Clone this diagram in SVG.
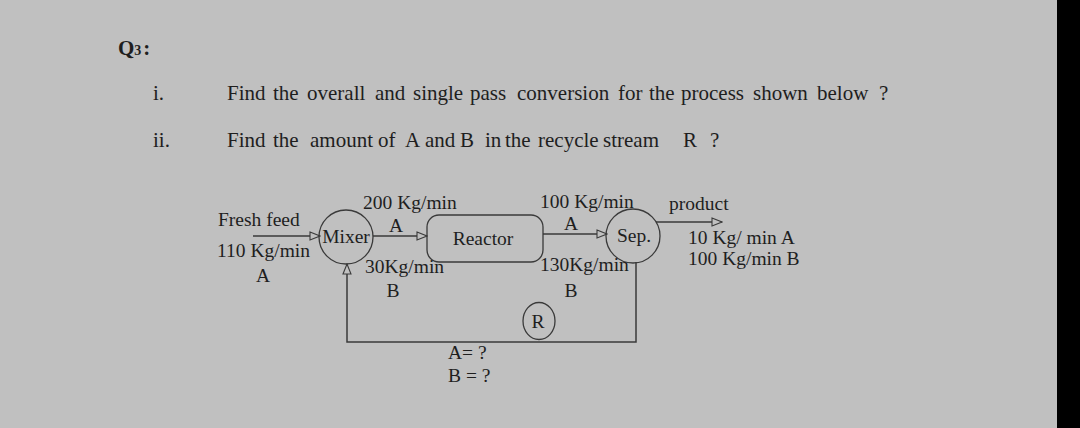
<svg xmlns="http://www.w3.org/2000/svg" width="1080" height="428" viewBox="0 0 1080 428">
<style>
text{font-family:"Liberation Serif","Times New Roman",serif;fill:#1e1e1e;font-size:19.5px}
.q{font-size:21px}
.c{text-anchor:middle}
.ln{stroke:#3a3a3a;stroke-width:1.5;fill:none}
.sh{stroke:#3a3a3a;stroke-width:1.3;fill:none}
</style>
<defs>
<marker id="ah" viewBox="0 0 12 10" refX="11" refY="5" markerWidth="12" markerHeight="10" markerUnits="userSpaceOnUse" orient="auto">
<path d="M1,1 L11,5 L1,9 Z" fill="#c0c0c0" stroke="#3a3a3a" stroke-width="1.1"/>
</marker>
</defs>
<rect width="1080" height="428" fill="#c0c0c0"/>
<rect x="1057" y="0" width="23" height="428" fill="#000"/>
<text x="118" y="55" style="font-weight:bold;font-size:21px">Q<tspan style="font-size:14px">3</tspan><tspan dx="2">:</tspan></text>
<text class="q" x="153" y="100">i.</text>
<text class="q" y="100"><tspan x="227">Find</tspan><tspan x="273">the</tspan><tspan x="307">overall</tspan><tspan x="375">and</tspan><tspan x="413">single</tspan><tspan x="470">pass</tspan><tspan x="517">conversion</tspan><tspan x="618">for</tspan><tspan x="649">the</tspan><tspan x="681">process</tspan><tspan x="753">shown</tspan><tspan x="817">below</tspan><tspan x="879">?</tspan></text>
<text class="q" x="153" y="147">ii.</text>
<text class="q" y="147"><tspan x="227">Find</tspan><tspan x="273">the</tspan><tspan x="310">amount</tspan><tspan x="378">of</tspan><tspan x="405">A</tspan><tspan x="425">and</tspan><tspan x="460">B</tspan><tspan x="485">in</tspan><tspan x="505">the</tspan><tspan x="538">recycle</tspan><tspan x="603">stream</tspan><tspan x="683">R</tspan><tspan x="710">?</tspan></text>
<g id="connectors">
<path class="ln" d="M253,236 H320" marker-end="url(#ah)"/>
<path class="ln" d="M373,236 H427" marker-end="url(#ah)"/>
<path class="ln" d="M543,234 H607" marker-end="url(#ah)"/>
<path class="ln" d="M656,222 H722" marker-end="url(#ah)"/>
<path class="ln" d="M636,262 V342 H347 V264" marker-end="url(#ah)"/>
</g>
<g id="mixer">
<circle class="sh" cx="346" cy="237" r="27"/>
<text class="c" x="346" y="243">Mixer</text>
</g>
<g id="reactor">
<rect class="sh" x="427" y="215" width="116" height="47" rx="12"/>
<text class="c" x="483" y="245">Reactor</text>
</g>
<g id="separator">
<circle class="sh" cx="633" cy="236" r="27"/>
<text class="c" x="634" y="242">Sep.</text>
</g>
<g id="recycle">
<ellipse class="sh" cx="539" cy="321" rx="16" ry="18.5"/>
<text class="c" x="538" y="328">R</text>
</g>
<g id="labels">
<text x="218" y="226">Fresh feed</text>
<text x="217" y="257">110 Kg/min</text>
<text class="c" x="263" y="282">A</text>
<text x="363" y="209">200 Kg/min</text>
<text class="c" x="396" y="232">A</text>
<text x="365" y="273">30Kg/min</text>
<text class="c" x="393" y="297">B</text>
<text x="540" y="208">100 Kg/min</text>
<text class="c" x="571" y="230">A</text>
<text x="540" y="271">130Kg/min</text>
<text class="c" x="571" y="297">B</text>
<text x="669" y="210">product</text>
<text x="688" y="244">10 Kg/ min A</text>
<text x="688" y="265">100 Kg/min B</text>
<text x="448" y="359">A= ?</text>
<text x="448" y="382">B = ?</text>
</g>
</svg>
